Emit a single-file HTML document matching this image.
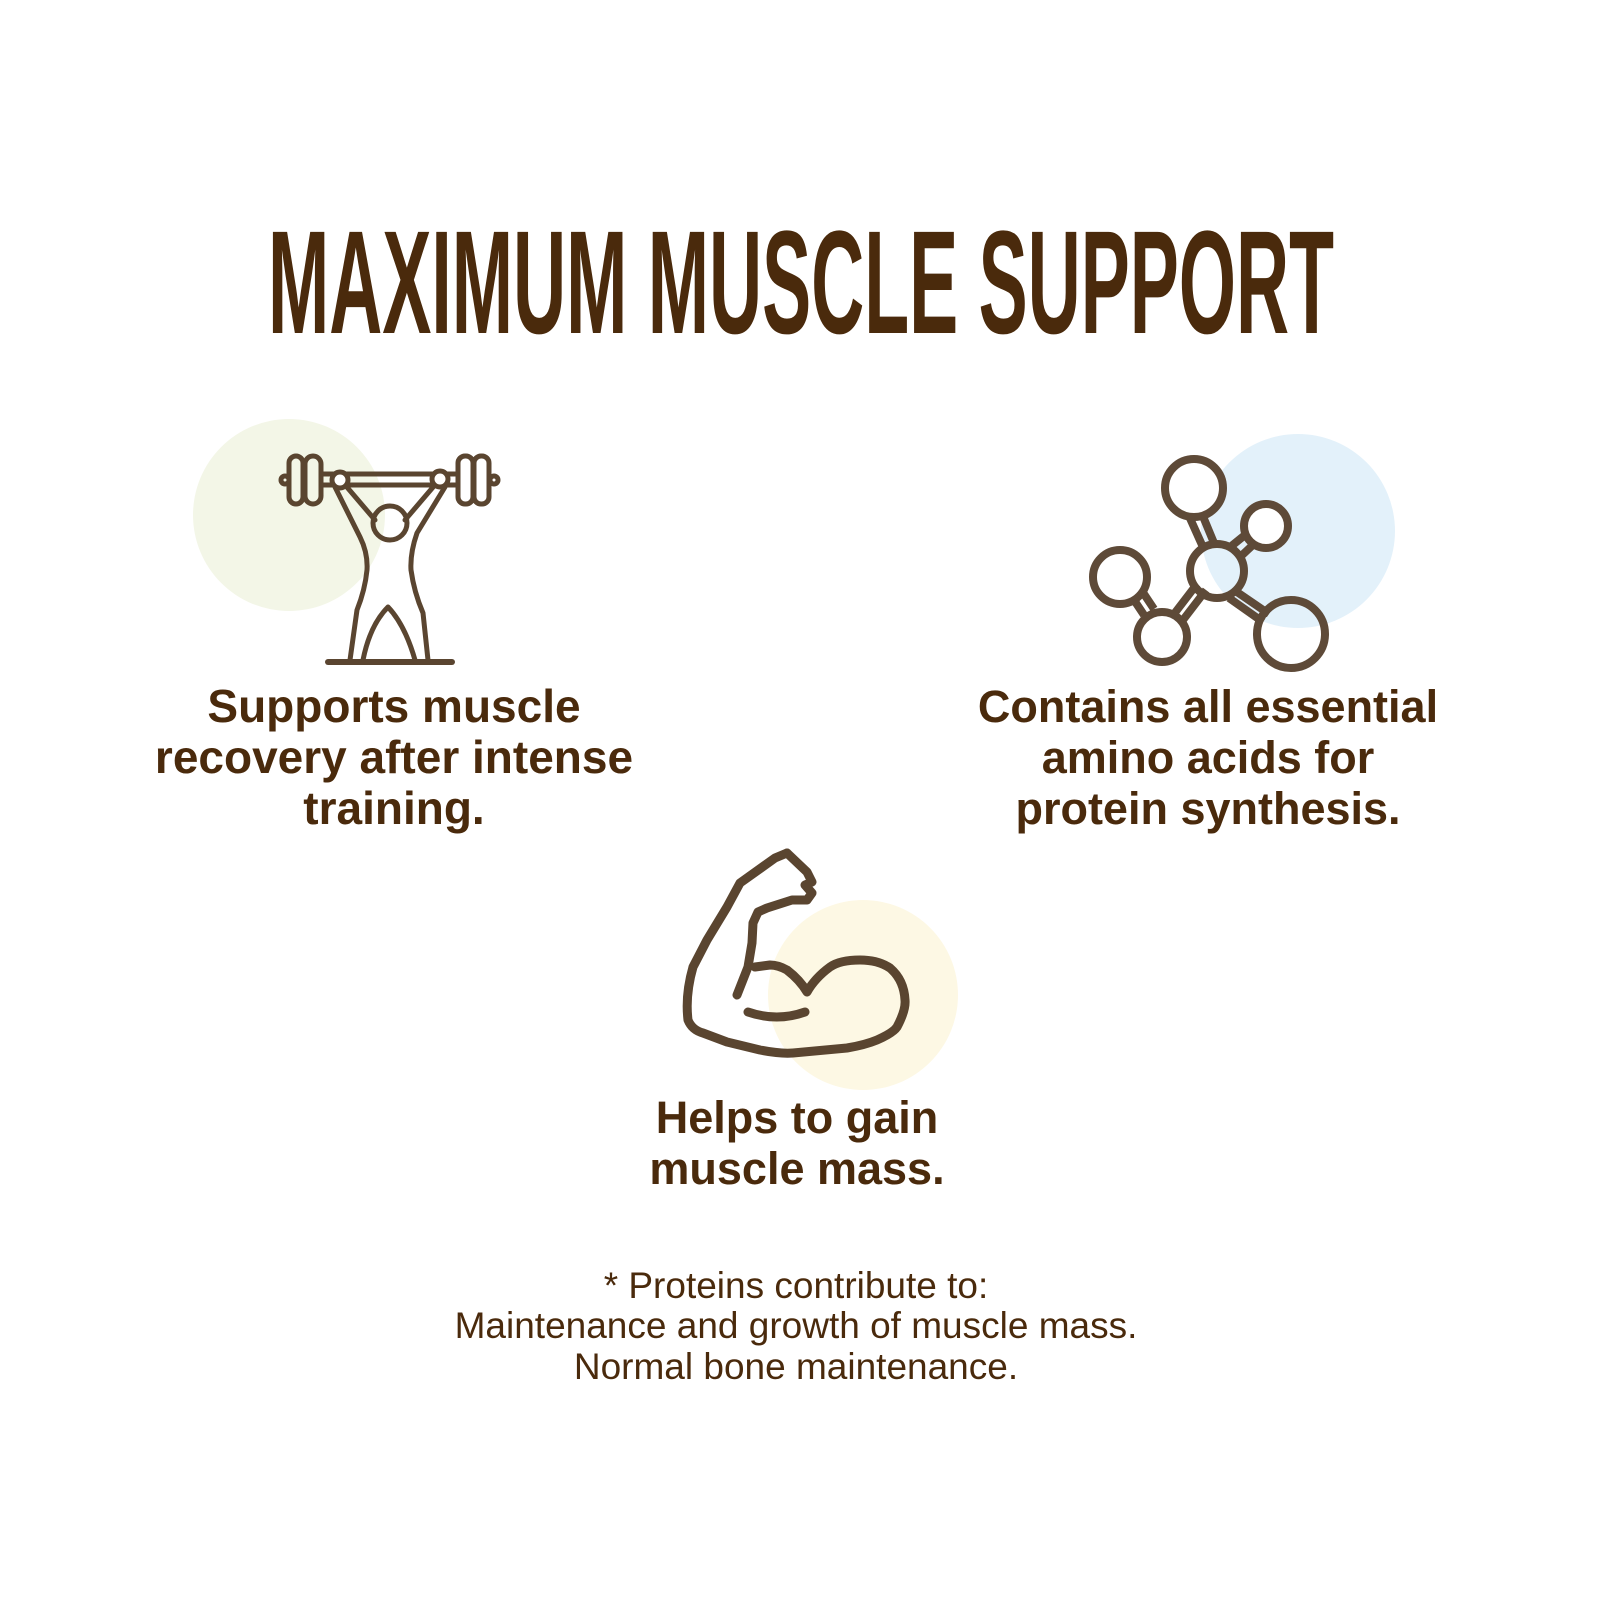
<!DOCTYPE html>
<html><head><meta charset="utf-8"><style>
html,body{margin:0;padding:0;background:#fff}
svg{display:block}
</style></head><body>
<svg width="1610" height="1610" viewBox="0 0 1610 1610" xmlns="http://www.w3.org/2000/svg">
<rect width="1610" height="1610" fill="#fff"/>
<text x="268" y="333" font-family="Liberation Sans, sans-serif" font-weight="bold" font-size="147" fill="#4a2a0c" textLength="1066" lengthAdjust="spacingAndGlyphs">MAXIMUM MUSCLE SUPPORT</text>

<circle cx="289" cy="515" r="96" fill="#f3f6e7"/>
<circle cx="1298" cy="531" r="97" fill="#e3f1fa"/>
<circle cx="863" cy="995" r="95" fill="#fdf8e4"/>

<g fill="none" stroke="#5a4530" stroke-width="5" stroke-linecap="round" stroke-linejoin="round">
 <rect x="289" y="456" width="14" height="48" rx="7"/>
 <rect x="305" y="456" width="16" height="48" rx="8"/>
 <rect x="458" y="456" width="15" height="48" rx="7"/>
 <rect x="474" y="456" width="15" height="48" rx="7"/>
 <circle cx="285" cy="480" r="4"/><circle cx="494" cy="480" r="4"/>
 <line x1="322" y1="474" x2="457" y2="474"/><line x1="322" y1="485" x2="457" y2="485"/>
 <circle cx="340" cy="480" r="8" fill="#fff"/><circle cx="440" cy="479" r="8" fill="#fff"/>
 <circle cx="390" cy="523" r="17"/>
 <path d="M335 487 L360 537 Q368 553 367 570 Q365 590 357 610 L350 660"/>
 <path d="M445 487 L417 533 Q410 553 411 570 Q414 592 423 613 L428 660"/>
 <path d="M346 486 L375 520"/><path d="M434 486 L405 520"/>
 <path d="M363 660 Q370 625 388 607 Q405 625 415 660"/>
 <line x1="328" y1="662" x2="452" y2="662" stroke-width="6"/>
</g>

<g fill="none" stroke="#5e4a38" stroke-width="8" transform="translate(-11,0)">
 <line x1="1200" y1="516" x2="1213" y2="545"/><line x1="1213" y1="514" x2="1225" y2="543"/>
 <line x1="1240" y1="548" x2="1256" y2="535"/><line x1="1250" y1="558" x2="1266" y2="543"/>
 <line x1="1245" y1="590" x2="1280" y2="614"/><line x1="1240" y1="598" x2="1274" y2="622"/>
 <line x1="1208" y1="584" x2="1185" y2="614"/><line x1="1217" y1="590" x2="1194" y2="620"/>
 <line x1="1145" y1="600" x2="1155" y2="615"/><line x1="1155" y1="594" x2="1165" y2="609"/>
 <circle cx="1205" cy="488" r="29" fill="#fff"/>
 <circle cx="1277" cy="526" r="22" fill="#fff"/>
 <circle cx="1228" cy="571" r="27" fill="none"/>
 <circle cx="1131" cy="577" r="27" fill="#fff"/>
 <circle cx="1173" cy="637" r="25" fill="#fff"/>
 <circle cx="1302" cy="634" r="34" fill="none"/>
</g>

<g fill="none" stroke="#5a4530" stroke-width="9" stroke-linecap="round" stroke-linejoin="round">
 <path d="M787 853 L807 872 L812 882 L805 885 L812 893 L807 900 L792 900 L767 908 L758 912 L753 923 L752 943 L748 967 L737 995"/>
 <path d="M787 853 L775 858 L740 883 L727 907 L707 940 L693 967 Q685 995 688 1020 Q692 1030 703 1033 L727 1042 L760 1050 Q780 1054 793 1053 L847 1048 Q865 1045 877 1040 Q893 1033 897 1027 Q906 1010 905 1000 Q904 980 890 968 Q878 960 860 960 Q840 960 830 967 Q815 978 807 992 Q800 980 787 970 Q778 965 770 965 L755 967"/>
 <path d="M748 1012 Q777 1022 805 1012"/>
</g>

<g font-family="Liberation Sans, sans-serif" font-weight="bold" font-size="46" fill="#4a2a0c" text-anchor="middle">
 <text x="394" y="722">Supports muscle</text>
 <text x="394" y="773">recovery after intense</text>
 <text x="394" y="824">training.</text>
</g>
<g font-family="Liberation Sans, sans-serif" font-weight="bold" font-size="45" fill="#4a2a0c" text-anchor="middle">
 <text x="1208" y="722">Contains all essential</text>
 <text x="1208" y="773">amino acids for</text>
 <text x="1208" y="824">protein synthesis.</text>
 <text x="797" y="1133">Helps to gain</text>
 <text x="797" y="1184">muscle mass.</text>
</g>
<g font-family="Liberation Sans, sans-serif" font-size="37" fill="#4a2a0c" text-anchor="middle">
 <text x="796" y="1298">* Proteins contribute to:</text>
 <text x="796" y="1338">Maintenance and growth of muscle mass.</text>
 <text x="796" y="1379">Normal bone maintenance.</text>
</g>
</svg>
</body></html>
